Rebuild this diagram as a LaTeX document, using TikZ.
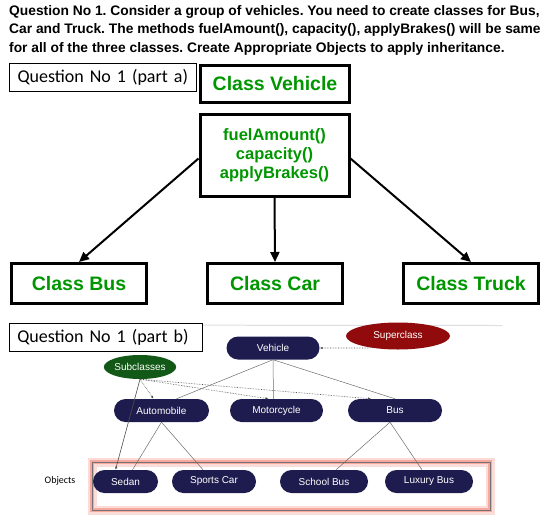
\documentclass[tikz,border=0pt]{standalone}
\usepackage{fontspec}
\setmainfont{Liberation Sans}
\newfontfamily\calibrifont{Carlito}
\usepackage{tikz}
\usetikzlibrary{arrows.meta,shapes.geometric}
\definecolor{classgreen}{RGB}{0,150,0}
\definecolor{pillnavy}{RGB}{30,28,78}
\definecolor{superred}{RGB}{145,10,12}
\definecolor{subgreen}{RGB}{18,88,22}
\definecolor{glowpink}{RGB}{246,168,158}
\frenchspacing

\begin{document}
\begin{tikzpicture}[x=1pt, y=-1pt, every node/.style={font=\fontsize{10}{12}\selectfont},
    classbox/.style={draw, line width=3pt, text=classgreen, font=\bfseries\fontsize{19.5}{22}\selectfont, minimum width=135pt, minimum height=40pt},
    partlabel/.style={draw, line width=0.6pt, font=\calibrifont\fontsize{18}{20}\selectfont, minimum height=28pt, inner xsep=8pt, inner ysep=0pt, align=left},
    pill/.style={rounded corners=11.5pt, fill=pillnavy, text=white, minimum height=23pt, inner sep=0pt},
    classarrow/.style={-{Triangle[length=10pt,width=9pt]}, line width=2pt},
    link/.style={draw=gray!85!black, line width=0.5pt},
    hint/.style={densely dotted, draw=gray!60!black, line width=0.6pt, -{Latex[length=3pt,width=2.5pt]}}]
    \useasboundingbox (0,0) rectangle (551,517);

    % Question text
    \node[anchor=north west, inner sep=0pt, align=left, font=\bfseries\fontsize{13.8}{18.5}\selectfont] (question) at (9,5) {Question No 1. Consider a group of vehicles. You need to create classes for Bus,\\
        Car and Truck. The methods fuelAmount(), capacity(), applyBrakes() will be same\\
        for all of the three classes. Create Appropriate Objects to apply inheritance.};

    % Part a
    \node[partlabel, text width=171pt] (parta) at (103,77) {Question No 1 (part a)};
    \node[classbox, minimum width=149pt, minimum height=37pt] (vehicle) at (275,83.5) {Class Vehicle};
    \node[classbox, minimum width=149pt, minimum height=82pt, align=center, font=\bfseries\fontsize{16.5}{19}\selectfont] (methods) at (274.5,155.5) {fuelAmount()\\
        capacity()\\
        applyBrakes()};
    \node[classbox] (bus) at (79,283.5) {Class Bus};
    \node[classbox] (car) at (275,283.5) {Class Car};
    \node[classbox] (truck) at (471,283.5) {Class Truck};

    \draw[classarrow] ([yshift=-3pt]methods.west) -- (bus.north);
    \draw[classarrow] (methods.south) -- (car.north);
    \draw[classarrow] ([yshift=-3pt]methods.east) -- (truck.north);

    % Part b
    \node[partlabel, text width=177.5pt] (partb) at (106,337) {Question No 1 (part b)};
    \coordinate (rulend) at (502,325.5);
    \draw[draw=gray!25, line width=1pt] ([yshift=-2.5pt]partb.north east) -- (rulend);

    % Objects frame
    \node[draw=gray!90!black, line width=0.8pt, preaction={draw=glowpink!40, line width=9pt}, preaction={draw=glowpink, line width=4pt}, minimum width=398pt, minimum height=48pt] (objbox) at (291,486) {};
    \node[font=\calibrifont\fontsize{10}{12}\selectfont] (objlabel) at (60,481) {Objects};

    \node[pill, minimum width=93pt] (pvehicle) at (273,348) {Vehicle};
    \node[ellipse, fill=superred, text=white, minimum width=104pt, minimum height=27pt, inner sep=0pt] (superc) at (398,336) {Superclass};
    \node[ellipse, fill=subgreen, text=white, minimum width=71pt, minimum height=24pt, inner sep=0pt] (subc) at (140,367) {Subclasses};

    \node[pill, minimum width=95pt] (auto) at (161.5,410.5) {Automobile};
    \node[pill, minimum width=93pt] (moto) at (276.5,410.5) {Motorcycle};
    \node[pill, minimum width=94pt] (pbus) at (395,410.5) {Bus};

    \node[pill, minimum width=65pt] (sedan) at (125.5,481.5) {Sedan};
    \node[pill, minimum width=84pt] (sports) at (214,481.5) {Sports Car};
    \node[pill, minimum width=88pt] (school) at (324,481.5) {School Bus};
    \node[pill, minimum width=88pt] (luxury) at (429,481.5) {Luxury Bus};

    % Edges
    \draw[link] (pvehicle.south) -- ([xshift=15pt]auto.north);
    \draw[link] (pvehicle.south) -- ([xshift=-3pt]moto.north);
    \draw[link] (pvehicle.south) -- (pbus.north);
    \draw[link] (auto.south) -- ([xshift=7pt]sedan.north);
    \draw[link] (auto.south) -- ([xshift=-11pt]sports.north);
    \draw[link] ([xshift=-5pt]pbus.south) -- ([xshift=12pt]school.north);
    \draw[link] ([xshift=-5pt]pbus.south) -- ([xshift=-7pt]luxury.north);

    \draw[hint] (superc.205) -- (pvehicle.east);
    \draw[hint] (subc.south) -- ([xshift=-8pt]auto.north);
    \draw[hint] (subc.south) -- ([xshift=-8pt]moto.north);
    \draw[hint] (subc.south) -- ([xshift=-24pt]pbus.north);
    \draw[hint, solid] (subc.south) -- ([xshift=-10pt]sedan.north);
\end{tikzpicture}
\end{document}
